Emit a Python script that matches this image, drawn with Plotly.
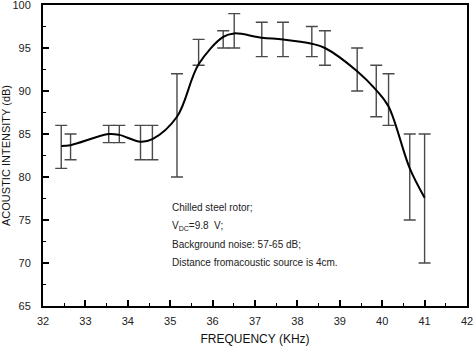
import plotly.graph_objects as go

# Measurement frequencies (kHz) with the spread of acoustic intensity at each
freq_khz = [32.43, 32.65, 33.55, 33.80, 34.30, 34.58, 35.16, 35.67, 36.25, 36.51,
            37.16, 37.66, 38.34, 38.65, 39.41, 39.86, 40.15, 40.65, 41.00]
upper_db = [86, 85, 86, 86, 86, 86, 92, 96, 97, 99,
            98, 98, 97.5, 97, 95, 93, 92, 85, 85]
lower_db = [81, 82, 84, 84, 82, 82, 80, 93, 95, 95,
            94, 94, 94, 93, 90, 87, 86, 75, 70]

# Smoothed trend of the intensity at the same frequencies
trend_db = [83.6, 83.7, 85.0, 84.9, 84.1, 84.4, 87.0, 93.1, 96.3, 96.7,
            96.2, 96.0, 95.5, 95.0, 92.3, 90.1, 88.2, 81.0, 77.6]

mid_db = [(u + l) / 2 for u, l in zip(upper_db, lower_db)]
half_db = [(u - l) / 2 for u, l in zip(upper_db, lower_db)]

notes = [
    "Chilled steel rotor;",
    "V<sub>DC</sub>=9.8  V;",
    "Background noise: 57-65 dB;",
    "Distance fromacoustic source is 4cm.",
]

FONT = "Liberation Sans, Arial, sans-serif"

fig = go.Figure()

fig.add_trace(go.Scatter(
    x=freq_khz, y=mid_db, mode="markers",
    marker=dict(size=1, color="rgba(0,0,0,0)"),
    error_y=dict(type="data", array=half_db, symmetric=True,
                 color="#4a4a4a", thickness=1.4, width=6),
    showlegend=False, hoverinfo="skip",
))

fig.add_trace(go.Scatter(
    x=freq_khz, y=trend_db, mode="lines",
    line=dict(color="black", width=2, shape="spline", smoothing=1.0),
    showlegend=False,
))

for i, txt in enumerate(notes):
    fig.add_annotation(
        x=35.0, y=76.4 - i * 2.13, xref="x", yref="y",
        text=txt, showarrow=False, xanchor="left", yanchor="middle",
        font=dict(family=FONT, size=10, color="#222"),
    )

fig.update_layout(
    width=474, height=347,
    margin=dict(l=43, r=7, t=5, b=41),
    paper_bgcolor="white", plot_bgcolor="white",
    font=dict(family=FONT, color="#222"),
)

fig.update_xaxes(
    range=[32, 42], tick0=32, dtick=1,
    ticks="inside", ticklen=6, tickwidth=1.5, tickcolor="black",
    minor=dict(ticks="inside", ticklen=3, tickwidth=1.2, dtick=0.5, tickcolor="black"),
    showline=True, linewidth=2, linecolor="black", mirror=True,
    showgrid=False, zeroline=False, automargin=False,
    ticklabeloverflow="allow", ticklabelstandoff=4,
    tickfont=dict(size=11, color="#222"),
    title=dict(text="FREQUENCY (KHz)", font=dict(size=12, color="#111"), standoff=8),
)

fig.update_yaxes(
    range=[65, 100], tick0=65, dtick=5,
    ticks="inside", ticklen=6, tickwidth=1.5, tickcolor="black",
    minor=dict(ticks="inside", ticklen=3, tickwidth=1.2, dtick=2.5, tickcolor="black"),
    showline=True, linewidth=2, linecolor="black", mirror=True,
    showgrid=False, zeroline=False, automargin=False,
    ticklabeloverflow="allow", ticklabelstandoff=8,
    tickfont=dict(size=11, color="#222"),
    title=dict(text="ACOUSTIC INTENSITY (dB)", font=dict(size=11, color="#111"), standoff=4),
)

fig.write_html("out.html")
